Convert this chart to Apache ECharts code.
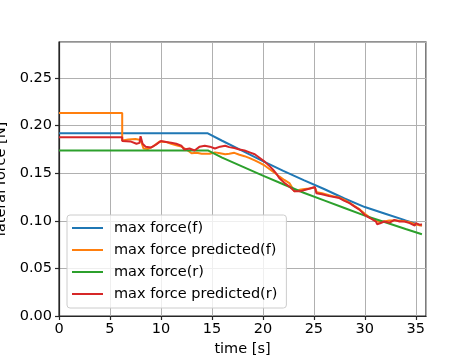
<!DOCTYPE html>
<html>
<head>
<meta charset="utf-8">
<script src="https://cdn.jsdelivr.net/npm/echarts@6/dist/echarts.min.js"></script>
<style>html,body{margin:0;padding:0;background:#fff}#c{width:474px;height:355px}</style>
</head>
<body>
<div id="c"></div>
<script>
// Series names
var seriesNames = ['max force(f)', 'max force predicted(f)', 'max force(r)', 'max force predicted(r)'];
// Tick labels
var xTicks = [0, 5, 10, 15, 20, 25, 30, 35];
var yTicks = [0.00, 0.05, 0.10, 0.15, 0.20, 0.25];

// [time s, lateral force N]
var maxForceF = [[0,0.192],[14.6,0.192],[16,0.1842],[18,0.1735],[20,0.1628],[22,0.1525],[24,0.1428],[26,0.1335],[28,0.1235],[30,0.1145],[32,0.1075],[34,0.1005],[35.6,0.095]];
var maxForcePredF = [[0,0.2135],[6.2,0.2135],[6.2,0.1845],[6.8,0.1855],[7.5,0.186],[8.0,0.185],[8.3,0.176],[8.7,0.1755],[9.2,0.178],[9.9,0.1835],[10.5,0.183],[11.0,0.181],[11.5,0.1795],[12.0,0.178],[12.5,0.175],[13.0,0.171],[13.5,0.1715],[14.0,0.1705],[14.8,0.1705],[15.3,0.172],[15.8,0.171],[16.3,0.170],[16.7,0.1705],[17.2,0.1715],[17.7,0.1695],[18.2,0.168],[18.7,0.166],[19.2,0.1635],[19.7,0.161],[20.2,0.158],[20.7,0.154],[21.2,0.150],[21.6,0.1467],[22.1,0.143],[22.6,0.1397],[23.1,0.131],[23.6,0.1326],[24.1,0.1335],[24.6,0.134],[25.1,0.135],[25.3,0.130],[25.8,0.129],[26.5,0.127],[27.0,0.1255],[27.5,0.1245],[28.0,0.122],[28.5,0.119],[29.0,0.1155],[29.5,0.112],[30.0,0.1075],[30.5,0.1035],[31.1,0.100],[31.5,0.0985],[32.0,0.0995],[32.4,0.1003],[32.9,0.1005],[33.4,0.100],[33.9,0.0995],[34.4,0.0985],[34.9,0.0965],[35.3,0.0955],[35.6,0.095]];
var maxForceR = [[0,0.174],[14.6,0.174],[16,0.1665],[18,0.157],[20,0.1475],[22,0.1385],[24,0.1295],[26,0.1215],[28,0.1135],[30,0.1055],[32,0.0985],[34,0.0915],[35.6,0.086]];
var maxForcePredR = [[0,0.188],[6.2,0.188],[6.2,0.184],[7.0,0.1835],[7.6,0.181],[7.9,0.182],[8.0,0.189],[8.2,0.181],[8.5,0.178],[9.0,0.177],[9.5,0.180],[10.0,0.184],[10.5,0.183],[11.0,0.182],[11.5,0.181],[12.0,0.179],[12.3,0.175],[12.8,0.176],[13.3,0.174],[13.8,0.178],[14.3,0.179],[14.8,0.178],[15.3,0.176],[15.8,0.178],[16.3,0.179],[16.7,0.1775],[17.2,0.1765],[17.7,0.175],[18.2,0.174],[18.7,0.172],[19.2,0.170],[19.7,0.166],[20.2,0.162],[20.7,0.157],[21.0,0.1537],[21.3,0.150],[21.6,0.145],[22.1,0.140],[22.6,0.136],[23.1,0.131],[23.6,0.131],[24.1,0.1325],[24.6,0.134],[25.1,0.1355],[25.25,0.129],[25.8,0.128],[26.5,0.126],[27.0,0.125],[27.5,0.124],[28.0,0.121],[28.5,0.1186],[29.0,0.115],[29.5,0.1116],[30.0,0.106],[30.5,0.103],[31.1,0.0993],[31.2,0.0965],[31.5,0.0975],[31.9,0.0993],[32.4,0.098],[32.9,0.101],[33.4,0.0993],[33.9,0.0993],[34.4,0.0976],[34.9,0.095],[35.0,0.0976],[35.4,0.0958],[35.6,0.0965]];

var colors = ['#1f77b4', '#ff7f0e', '#2ca02c', '#d62728'];
var dataList = [maxForceF, maxForcePredF, maxForceR, maxForcePredR];
var FONT = 'DejaVu Sans';

var chart = echarts.init(document.getElementById('c'), null, {renderer: 'canvas'});
chart.setOption({
  animation: false,
  color: colors,
  textStyle: {fontFamily: FONT},
  grid: {left: 59, right: 48, top: 42, bottom: 39, containLabel: false, outerBoundsMode: 'none',
    show: true, borderColor: '#262626', borderWidth: 1.2, backgroundColor: 'transparent'},
  xAxis: {
    type: 'value', min: 0, max: 36, interval: 5,
    name: 'time [s]', nameLocation: 'middle', nameGap: 24,
    nameTextStyle: {fontFamily: FONT, fontSize: 14.5, color: '#000'},
    axisLine: {show: true, lineStyle: {color: '#262626', width: 1.2}},
    axisTick: {show: true, inside: false, length: 4, lineStyle: {color: '#262626', width: 1.2}},
    axisLabel: {fontFamily: FONT, fontSize: 14.5, color: '#000', margin: 6, showMaxLabel: false,
      formatter: function (v) { return xTicks.indexOf(v) >= 0 ? String(v) : ''; }},
    splitLine: {show: true, lineStyle: {color: '#b0b0b0', width: 1}}
  },
  yAxis: {
    type: 'value', min: 0, max: 0.288, interval: 0.05,
    name: 'lateral force [N]', nameLocation: 'middle', nameGap: 45, nameRotate: 90,
    nameTextStyle: {fontFamily: FONT, fontSize: 14.5, color: '#000'},
    axisLine: {show: true, lineStyle: {color: '#262626', width: 1.2}},
    axisTick: {show: true, inside: false, length: 4, lineStyle: {color: '#262626', width: 1.2}},
    axisLabel: {fontFamily: FONT, fontSize: 14.5, color: '#000', margin: 7, showMaxLabel: false,
      formatter: function (v) {
        for (var i = 0; i < yTicks.length; i++) { if (Math.abs(yTicks[i] - v) < 1e-9) return yTicks[i].toFixed(2); }
        return '';
      }},
    splitLine: {show: true, lineStyle: {color: '#b0b0b0', width: 1}}
  },
  legend: {
    orient: 'vertical', left: 67, top: 215,
    data: seriesNames,
    icon: 'rect', itemWidth: 31, itemHeight: 2, itemGap: 6,
    backgroundColor: 'rgba(255,255,255,0.8)', borderColor: '#cccccc', borderWidth: 1, borderRadius: 3,
    padding: [5, 9, 6, 5],
    textStyle: {fontFamily: FONT, fontSize: 14.5, color: '#000', lineHeight: 16, padding: [0, 0, 0, 6]}
  },
  series: seriesNames.map(function (n, i) {
    return {
      name: n, type: 'line', data: dataList[i], symbol: 'none', showSymbol: false,
      lineStyle: {width: 2, color: colors[i]}, itemStyle: {color: colors[i]},
      z: 2 + i
    };
  })
});
</script>
</body>
</html>
